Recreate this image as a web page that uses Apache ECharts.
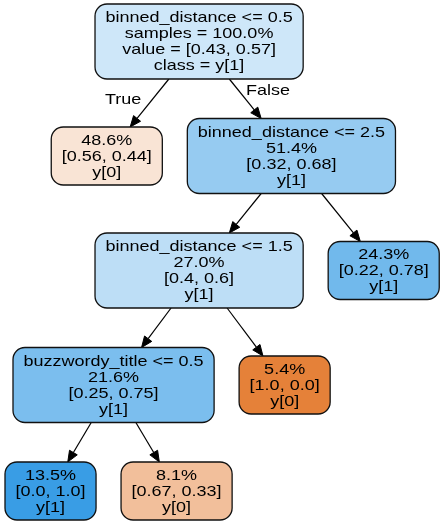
<!DOCTYPE html>
<html>
<head>
<meta charset="utf-8">
<script src="https://cdn.jsdelivr.net/npm/echarts@6/dist/echarts.min.js"></script>
<style>
  html, body { margin: 0; padding: 0; background: #ffffff; }
  #chart { width: 445px; height: 525px; }
</style>
</head>
<body>
<div id="chart"></div>
<script>
// ---------------- tree data (pre-order node ids, as exported by sklearn) ----------------
const leftChild      = [1, -1, 3, 4, 5, -1, -1, -1, -1];
const rightChild     = [2, -1, 8, 7, 6, -1, -1, -1, -1];
const splitFeature   = ['binned_distance', '', 'binned_distance', 'binned_distance', 'buzzwordy_title', '', '', '', ''];
const splitThreshold = [0.5, null, 2.5, 1.5, 0.5, null, null, null, null];
const samplesPct     = [100.0, 48.6, 51.4, 27.0, 21.6, 13.5, 8.1, 5.4, 24.3];
const valueClass0    = [0.43, 0.56, 0.32, 0.4, 0.25, 0.0, 0.67, 1.0, 0.22];
const valueClass1    = [0.57, 0.44, 0.68, 0.6, 0.75, 1.0, 0.33, 0.0, 0.78];
const classNames     = ['y[0]', 'y[1]'];
const branchLabels   = ['True', 'False'];

// ---------------- styles ----------------
const CLASS_COLORS = [[229, 129, 57], [57, 157, 229]];
const FONT_SIZE = 15;
const FONT_FAMILY = '"Liberation Sans", Arial, Helvetica, sans-serif';
const TEXT_SCALE_X = 1.2;
const LINE_H = 16;
const PAD_X = 21;
const RANK_GAP = 39.5;
const SIB_GAP = 25;
const MARGIN_LEFT = 5, MARGIN_TOP = 4;
const W_PX = 445, H_PX = 525;

function pyFloat(v) { return Number.isInteger(v) ? v.toFixed(1) : String(v); }

const N = samplesPct.length;
function nodeLines(i) {
  const vals = '[' + pyFloat(valueClass0[i]) + ', ' + pyFloat(valueClass1[i]) + ']';
  const cls = classNames[valueClass1[i] > valueClass0[i] ? 1 : 0];
  const lines = [];
  if (leftChild[i] >= 0) lines.push(splitFeature[i] + ' <= ' + pyFloat(splitThreshold[i]));
  if (i === 0) {
    lines.push('samples = ' + samplesPct[i].toFixed(1) + '%');
    lines.push('value = ' + vals);
    lines.push('class = ' + cls);
  } else {
    lines.push(samplesPct[i].toFixed(1) + '%');
    lines.push(vals);
    lines.push(cls);
  }
  return lines;
}
function nodeColor(i) {
  const v = [valueClass0[i], valueClass1[i]];
  const k = v[1] > v[0] ? 1 : 0;
  const hi = Math.max(v[0], v[1]), lo = Math.min(v[0], v[1]);
  const alpha = lo >= 1 ? 0 : (hi - lo) / (1 - lo);
  const c = CLASS_COLORS[k].map(ch => Math.round(alpha * ch + (1 - alpha) * 255));
  return 'rgb(' + c.join(',') + ')';
}

// ---------------- layout computed from tree structure and text size ----------------
const ctx = document.createElement('canvas').getContext('2d');
ctx.font = FONT_SIZE + 'px ' + FONT_FAMILY;
const texts = [], W = [], H = [], depth = new Array(N).fill(0), X = new Array(N).fill(0), Y = [];
for (let i = 0; i < N; i++) {
  const lines = nodeLines(i);
  texts.push(lines.join('\n'));
  W.push(Math.max(...lines.map(l => ctx.measureText(l).width)) * TEXT_SCALE_X + PAD_X);
  H.push(lines.length * 17 + 7);
}
(function walk(i) {
  if (leftChild[i] < 0) return;
  const l = leftChild[i], r = rightChild[i];
  depth[l] = depth[r] = depth[i] + 1;
  const d = ((W[l] + W[r]) / 2 + SIB_GAP) / 2;
  X[l] = X[i] - d; X[r] = X[i] + d;
  walk(l); walk(r);
})(0);
const minLeft = Math.min(...X.map((x, i) => x - W[i] / 2));
for (let i = 0; i < N; i++) X[i] += MARGIN_LEFT - minLeft;
const maxDepth = Math.max(...depth);
const rankH = [];
for (let d = 0; d <= maxDepth; d++) rankH.push(Math.max(...H.filter((h, i) => depth[i] === d)));
const rankTop = [MARGIN_TOP];
for (let d = 1; d <= maxDepth; d++) rankTop.push(rankTop[d - 1] + rankH[d - 1] + RANK_GAP);
for (let i = 0; i < N; i++) Y.push(rankTop[depth[i]] + rankH[depth[i]] / 2);

function clipT(hw, hh, dx, dy) {
  return Math.min(dx ? hw / Math.abs(dx) : Infinity, dy ? hh / Math.abs(dy) : Infinity);
}
const edgeData = [];
for (let p = 0; p < N; p++) {
  [leftChild[p], rightChild[p]].forEach((c, side) => {
    if (c < 0) return;
    const dx = X[c] - X[p], dy = Y[c] - Y[p];
    const t0 = clipT(W[p] / 2, H[p] / 2, dx, dy);
    const t1 = clipT(W[c] / 2, H[c] / 2, dx, dy);
    edgeData.push([X[p] + dx * t0, Y[p] + dy * t0, X[c] - dx * t1, Y[c] - dy * t1, p, side]);
  });
}
const nodeData = [];
for (let i = 0; i < N; i++) nodeData.push([X[i], Y[i], i]);

function scaledText(str, x, y, extra) {
  return Object.assign({
    type: 'text', x: x, y: y, scaleX: TEXT_SCALE_X,
    style: { text: str, x: 0, y: 0, fill: '#000', fontSize: FONT_SIZE, fontFamily: FONT_FAMILY,
             lineHeight: LINE_H, align: 'center', verticalAlign: 'middle' }
  }, extra || {});
}

const chart = echarts.init(document.getElementById('chart'), null, { renderer: 'canvas' });
chart.setOption({
  backgroundColor: '#ffffff',
  animation: false,
  grid: { left: 0, right: 0, top: 0, bottom: 0 },
  xAxis: { type: 'value', min: 0, max: W_PX, show: false },
  yAxis: { type: 'value', min: 0, max: H_PX, inverse: true, show: false },
  series: [
    {
      type: 'custom',
      coordinateSystem: 'cartesian2d',
      data: edgeData,
      encode: { x: [0, 2], y: [1, 3] },
      z: 1,
      renderItem: function (params, api) {
        const a = api.coord([api.value(0), api.value(1)]);
        const b = api.coord([api.value(2), api.value(3)]);
        const parent = api.value(4), side = api.value(5);
        const len = Math.hypot(b[0] - a[0], b[1] - a[1]);
        const ux = (b[0] - a[0]) / len, uy = (b[1] - a[1]) / len;
        const AL = 11, AW = 4.5;
        const bx = b[0] - ux * AL, by = b[1] - uy * AL;
        const children = [
          { type: 'line', shape: { x1: a[0], y1: a[1], x2: bx, y2: by },
            style: { stroke: '#000', lineWidth: 1.2 } },
          { type: 'polygon', shape: { points: [[b[0], b[1]], [bx - uy * AW, by + ux * AW], [bx + uy * AW, by - ux * AW]] },
            style: { fill: '#000', stroke: '#000', lineWidth: 1 } }
        ];
        if (parent === 0) {
          const ang = (side === 0 ? -53 : 53) * Math.PI / 180;
          const bxd = -ux, byd = -uy;
          const rx = bxd * Math.cos(ang) - byd * Math.sin(ang);
          const ry = bxd * Math.sin(ang) + byd * Math.cos(ang);
          children.push(scaledText(branchLabels[side], b[0] + rx * 28.5, b[1] + ry * 28.5));
        }
        return { type: 'group', children: children };
      }
    },
    {
      type: 'custom',
      coordinateSystem: 'cartesian2d',
      data: nodeData,
      encode: { x: 0, y: 1 },
      z: 2,
      renderItem: function (params, api) {
        const i = api.value(2);
        const c = api.coord([api.value(0), api.value(1)]);
        const s = api.size([W[i], H[i]]);
        return {
          type: 'group',
          children: [
            { type: 'rect',
              shape: { x: c[0] - s[0] / 2, y: c[1] - s[1] / 2, width: s[0], height: s[1], r: 12 },
              style: { fill: nodeColor(i), stroke: '#111', lineWidth: 1.3 } },
            scaledText(texts[i], c[0], c[1] + 0.5)
          ]
        };
      }
    }
  ]
});
</script>
</body>
</html>
